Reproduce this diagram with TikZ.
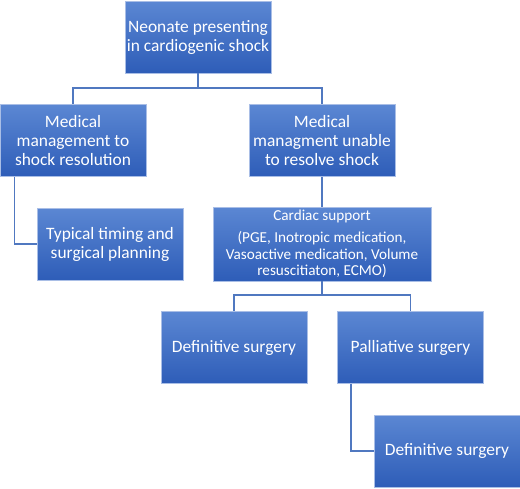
\documentclass[tikz,border=0pt]{standalone}
\usepackage{fontspec}
\setmainfont{Carlito}
\definecolor{boxtop}{HTML}{5B87D3}
\definecolor{boxbot}{HTML}{2E5DB8}
\definecolor{boxedge}{HTML}{A9BEE6}
\definecolor{linkc}{HTML}{5078C0}
\tikzset{
  box/.style={rectangle, top color=boxtop, bottom color=boxbot, draw=boxedge, line width=0.8pt,
    text=white, align=center, minimum width=146pt, minimum height=72pt, inner sep=1pt,
    font=\fontsize{17.4pt}{19pt}\selectfont},
  link/.style={draw=linkc, line width=1.5pt}
}
\begin{document}
\begin{tikzpicture}[x=1pt,y=-1pt]
\useasboundingbox (0,0) rectangle (520,488);
\node[box] (top) at (198,37) {Neonate presenting\\in cardiogenic shock};
\node[box] (left1) at (73,140.5) {Medical\\management to\\shock resolution};
\node[box] (right1) at (322,140.5) {Medical\\managment unable\\to resolve shock};
\node[box] (typical) at (110,244) {Typical timing and\\surgical planning};
\node[box, minimum width=218pt, minimum height=74pt, font=\fontsize{15.2pt}{16.7pt}\selectfont] (cardiac) at (322,244) {Cardiac support\\[5pt](PGE, Inotropic medication,\\Vasoactive medication, Volume\\resuscitiaton, ECMO)};
\node[box] (def1) at (234,347.5) {Definitive surgery};
\node[box] (pall) at (410.5,347.5) {Palliative surgery};
\node[box] (def2) at (447,451) {Definitive surgery};
\coordinate (bus1) at (198,88);
\coordinate (bus2) at (322,295);
\draw[link] (top.south) -- (bus1) -| (left1.north);
\draw[link] (bus1) -| (right1.north);
\draw[link] ([xshift=15pt]left1.south west) |- (typical.west);
\draw[link] (right1.south) -- (cardiac.north);
\draw[link] (cardiac.south) -- (bus2) -| (def1.north);
\draw[link] (bus2) -| (pall.north);
\draw[link] ([xshift=14pt]pall.south west) |- (def2.west);
\end{tikzpicture}
\end{document}
